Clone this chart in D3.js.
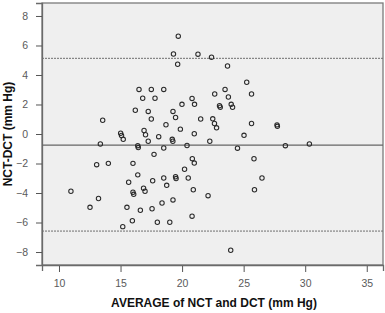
<!DOCTYPE html>
<html>
<head>
<meta charset="utf-8">
<script src="https://cdn.jsdelivr.net/npm/d3@7"></script>
<style>
    body { margin: 0; background: #ffffff; }
    svg { display: block; font-family: Arial, "Liberation Sans", sans-serif; }
</style>
</head>
<body>
<svg id="chart" width="385" height="313"></svg>
<script>
// mean of NCT and DCT (mm Hg)
const averages = [
    19.69, 19.30, 21.29, 22.39, 19.64, 23.69, 25.25, 16.50, 17.50, 18.51,
    23.49, 16.80, 17.80, 22.65, 25.64, 20.81, 23.76, 21.01, 19.99, 23.04,
    23.10, 23.99, 24.10, 16.20, 17.25, 19.26, 13.55, 17.50, 19.47, 21.51,
    22.49, 22.63, 22.80, 25.64, 18.69, 19.86, 27.71, 27.74, 16.91, 17.03,
    15.01, 15.08, 15.22, 18.10, 20.99, 25.03, 17.25, 19.20, 19.25, 22.25,
    13.36, 16.40, 16.44, 18.51, 20.40, 24.50, 28.39, 30.34, 17.72, 13.06,
    14.01, 16.01, 20.83, 20.99, 25.84, 20.20, 16.40, 15.66, 17.61, 18.51,
    19.47, 19.51, 20.50, 26.49, 18.75, 16.87, 16.99, 16.01, 16.07, 20.91,
    25.88, 22.11, 10.97, 13.21, 12.52, 15.52, 16.61, 17.56, 18.37, 19.26,
    20.81, 15.96, 17.99, 19.00, 15.18, 23.95
];

// difference NCT - DCT (mm Hg)
const differences = [
    6.63, 5.42, 5.41, 5.20, 4.73, 4.61, 3.51, 3.02, 3.02, 3.02,
    3.02, 2.42, 2.42, 2.71, 2.71, 2.41, 2.51, 2.01, 2.01, 1.92,
    1.81, 2.01, 1.81, 1.61, 1.53, 1.53, 0.93, 1.02, 1.12, 1.02,
    1.03, 0.71, 0.42, 0.71, 0.63, 0.33, 0.62, 0.52, 0.24, -0.05,
    0.05, -0.10, -0.36, -0.18, 0.02, -0.09, -0.49, -0.36, -0.49, -0.49,
    -0.68, -0.79, -0.92, -0.95, -0.78, -0.96, -0.79, -0.68, -1.38, -2.08,
    -1.99, -1.99, -1.67, -1.97, -1.68, -2.39, -2.77, -3.27, -3.17, -2.98,
    -2.90, -3.02, -2.98, -2.98, -3.48, -3.68, -3.88, -3.95, -4.09, -3.78,
    -3.78, -4.18, -3.88, -4.37, -4.97, -4.97, -5.17, -5.07, -4.68, -4.47,
    -5.57, -5.88, -5.98, -5.98, -6.28, -7.88
];

// mean difference and limits of agreement
const meanDiff = -0.75;
const limits = [5.13, -6.58];

const xTicks = [10, 15, 20, 25, 30, 35];
const yTicks = [-8, -6, -4, -2, 0, 2, 4, 6, 8];

const points = averages.map(function (a, i) { return { x: a, y: differences[i] }; });

const plotLeft = 42, plotRight = 383, plotTop = 3, plotBottom = 265;

const svg = d3.select("#chart");

const xScale = d3.scaleLinear().domain([8.62, 36.32]).range([plotLeft, plotRight]);
const yScale = d3.scaleLinear().domain([-8.88, 8.88]).range([plotBottom, plotTop]);

// plot background
svg.append("rect")
    .attr("x", plotLeft)
    .attr("y", plotTop)
    .attr("width", plotRight - plotLeft)
    .attr("height", plotBottom - plotTop)
    .attr("fill", "#efefef")
    .attr("stroke", "#7a7a7a")
    .attr("stroke-width", 1.3);

// x axis
const xAxis = svg.append("g")
    .attr("transform", `translate(0, ${plotBottom})`)
    .call(d3.axisBottom(xScale).tickValues(xTicks).tickSize(6).tickPadding(9));

// y axis
const yAxis = svg.append("g")
    .attr("transform", `translate(${plotLeft}, 0)`)
    .call(d3.axisLeft(yScale).tickValues(yTicks).tickSize(6).tickPadding(8));

[xAxis, yAxis].forEach(function (g) {
    g.select(".domain").attr("stroke", "#6a6a6a").attr("stroke-width", 1.3);
    g.selectAll(".tick line").attr("stroke", "#555");
    g.selectAll(".tick text")
        .attr("fill", "#5a5a5a")
        .style("font-size", "10.5px")
        .style("font-family", "Arial, 'Liberation Sans', sans-serif");
});
xAxis.selectAll(".tick line").attr("transform", "translate(0, 1)");

// limits of agreement (dotted) and mean (solid)
svg.selectAll(".limit")
    .data(limits)
    .join("line")
    .attr("class", "limit")
    .attr("x1", plotLeft)
    .attr("x2", plotRight)
    .attr("y1", function (d) { return yScale(d); })
    .attr("y2", function (d) { return yScale(d); })
    .attr("stroke", "#6f6f6f")
    .attr("stroke-width", 1)
    .attr("stroke-dasharray", "2,1");

svg.append("line")
    .attr("x1", plotLeft)
    .attr("x2", plotRight)
    .attr("y1", yScale(meanDiff))
    .attr("y2", yScale(meanDiff))
    .attr("stroke", "#666")
    .attr("stroke-width", 1.2);

// points
svg.selectAll(".pt")
    .data(points)
    .join("circle")
    .attr("class", "pt")
    .attr("cx", function (d) { return xScale(d.x); })
    .attr("cy", function (d) { return yScale(d.y); })
    .attr("r", 2.2)
    .attr("fill", "none")
    .attr("stroke", "#2a2a2a")
    .attr("stroke-width", 1.05);

// axis titles
svg.append("text")
    .attr("x", (plotLeft + plotRight) / 2 + 1.5)
    .attr("y", 307)
    .attr("text-anchor", "middle")
    .attr("font-weight", "bold")
    .attr("font-size", "12px")
    .attr("fill", "#111")
    .text("AVERAGE of NCT and DCT (mm Hg)");

svg.append("text")
    .attr("transform", `translate(11.5, ${(plotTop + plotBottom) / 2}) rotate(-90)`)
    .attr("text-anchor", "middle")
    .attr("font-weight", "bold")
    .attr("font-size", "12px")
    .attr("fill", "#111")
    .text("NCT-DCT (mm Hg)");
</script>
</body>
</html>
